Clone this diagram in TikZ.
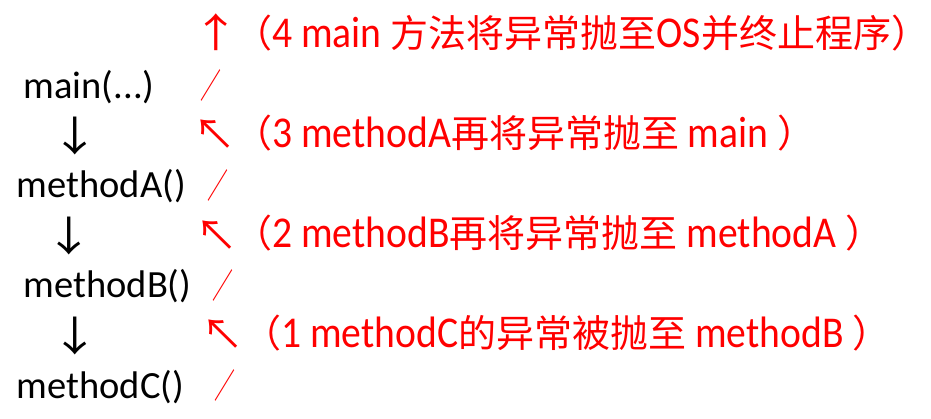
\documentclass[tikz,border=0pt]{standalone}
\usepackage{graphicx}
\usepackage{fontspec}
\setmainfont{Carlito}
\newfontfamily\cjkfont{Noto Sans CJK SC}
\newfontfamily\redlatfont[FakeStretch=0.9]{Carlito}
\newcommand{\zhtxt}[1]{{\fontsize{38pt}{38pt}\cjkfont #1}}
\newcommand{\uparr}{\makebox[36pt]{\scalebox{1.25}[1.05]{↑}}}
\newcommand{\downarr}{\scalebox{1.3}[1.08]{↓}}
\newcommand{\nwarr}{\scalebox{1.12}[1.1]{↖}}
\newcommand{\slashmark}{\scalebox{0.55}[0.9]{／}}
\tikzset{
  call/.style={anchor=base west, inner sep=0pt, font=\fontsize{38.5pt}{38.5pt}\selectfont, text=black},
  note/.style={anchor=base west, inner sep=0pt, font=\fontsize{44pt}{44pt}\redlatfont, text=red},
  redglyph/.style={anchor=center, inner sep=0pt, font=\fontsize{38pt}{38pt}\cjkfont, text=red},
  blackglyph/.style={anchor=center, inner sep=0pt, font=\fontsize{38pt}{38pt}\cjkfont, text=black}
}
\begin{document}
\begin{tikzpicture}[x=1pt,y=1pt]
\useasboundingbox (0,0) rectangle (931,-419);
% black call chain
\node[call] (main) at (23.5,-99) {main(...)};
\node[blackglyph] (d1) at (75,-136.5) {\downarr};
\node[call] (mA) at (16.5,-198) {methodA()};
\node[blackglyph] (d2) at (69,-236.5) {\downarr};
\node[call] (mB) at (23.5,-298) {methodB()};
\node[blackglyph] (d3) at (75,-336.5) {\downarr};
\node[call] (mC) at (16.5,-398) {methodC()};
% red glyphs
\node[redglyph] (s1) at (210.5,-86) {\slashmark};
\node[redglyph] (u3) at (215,-135) {\nwarr};
\node[redglyph] (s2) at (217.5,-186) {\slashmark};
\node[redglyph] (u2) at (216.5,-236) {\nwarr};
\node[redglyph] (s3) at (223,-286) {\slashmark};
\node[redglyph] (u1) at (222.5,-335) {\nwarr};
\node[redglyph] (s4) at (225,-386) {\slashmark};
% red notes
\node[note] (n4) at (198,-48) {\zhtxt{\uparr（}4 main \zhtxt{方法将异常抛至}OS\zhtxt{并终止程序）}};
\node[note] (n3) at (234,-148) {\zhtxt{（}3 methodA\zhtxt{再将异常抛至} main \zhtxt{）}};
\node[note] (n2) at (234,-248) {\zhtxt{（}2 methodB\zhtxt{再将异常抛至} methodA \zhtxt{）}};
\node[note] (n1) at (243,-348) {\zhtxt{（}1 methodC\zhtxt{的异常被抛至} methodB \zhtxt{）}};
\end{tikzpicture}
\end{document}
